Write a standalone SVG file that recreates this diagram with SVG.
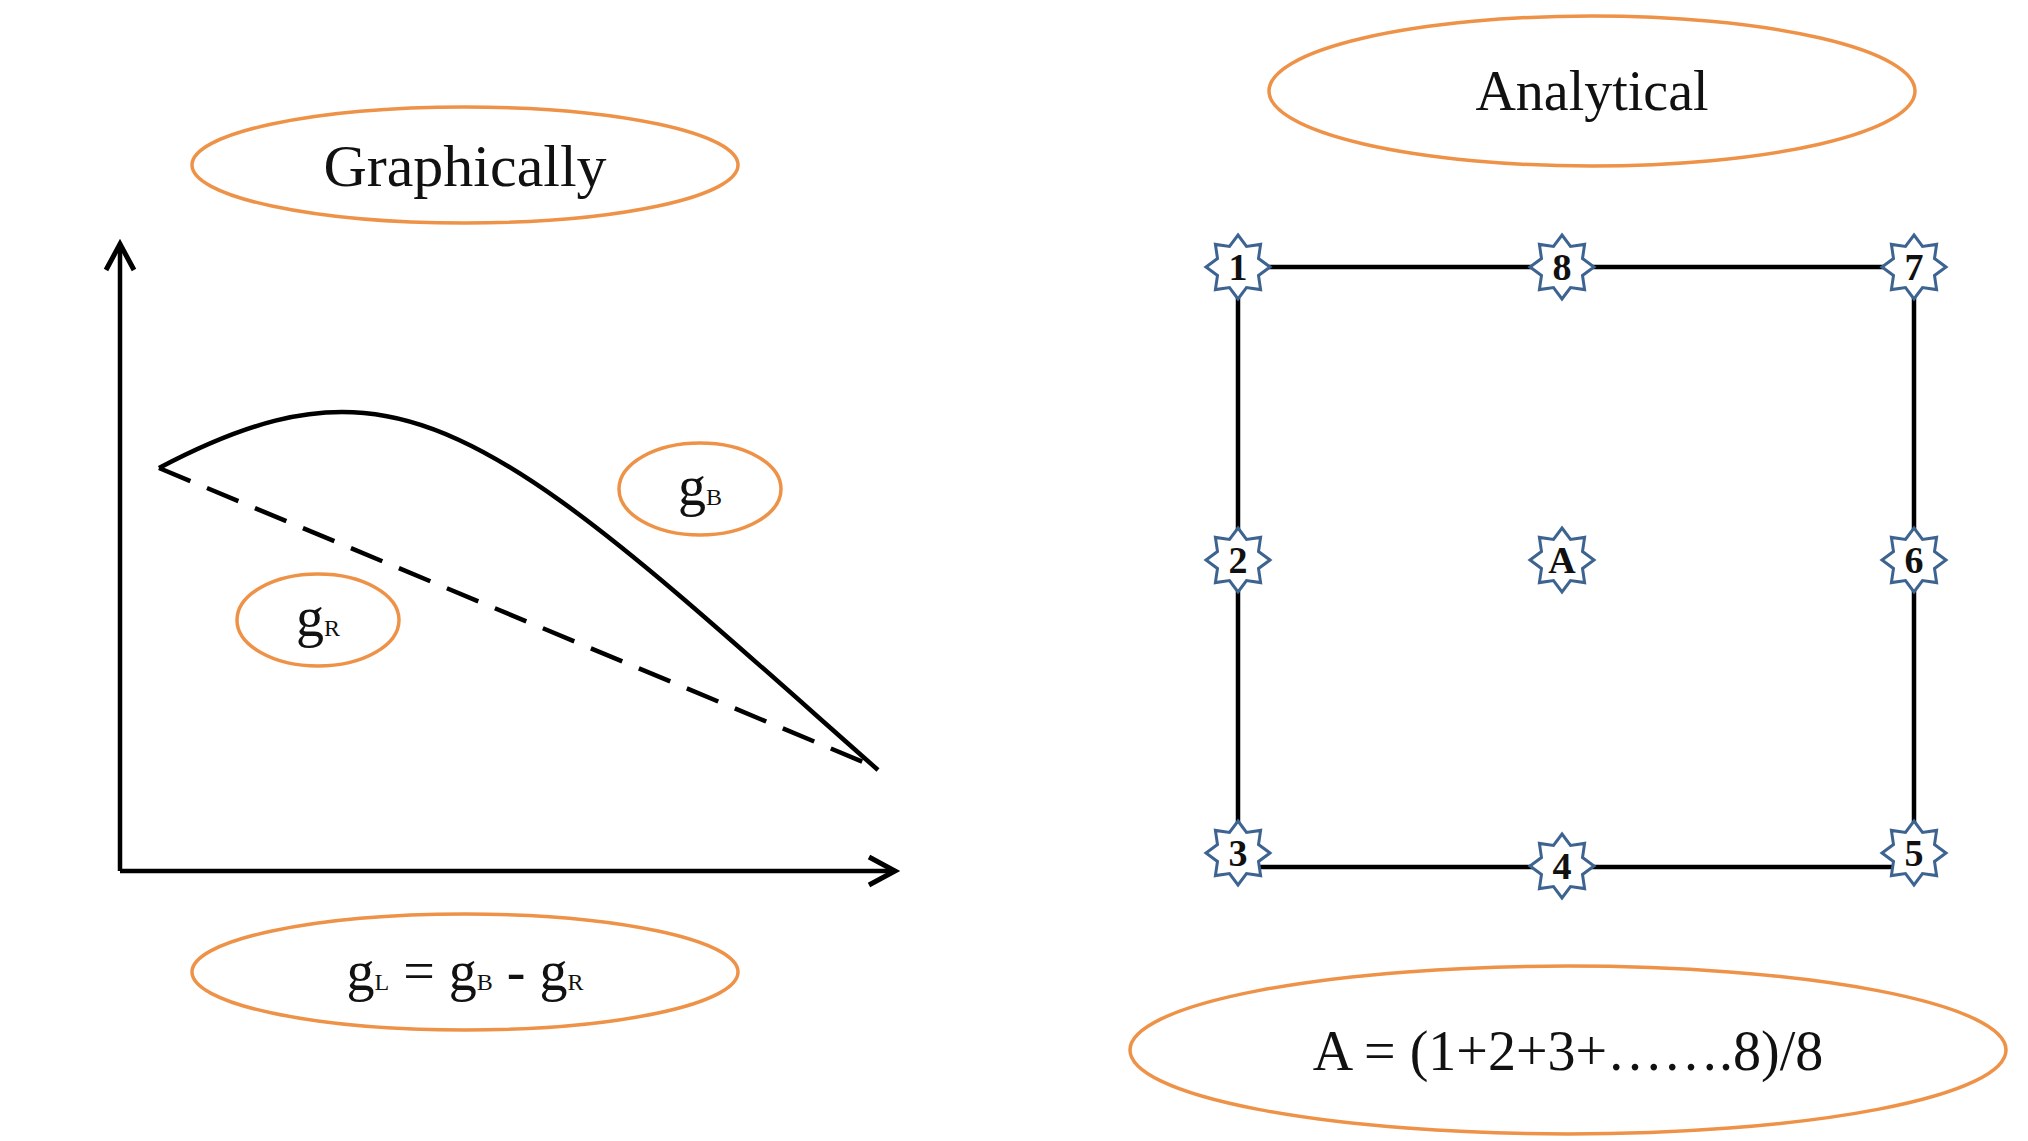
<svg xmlns="http://www.w3.org/2000/svg" width="2028" height="1141" viewBox="0 0 2028 1141">
<style>
.ov{fill:none;stroke:#ee9248;stroke-width:3.5}
.t{font-family:"Liberation Serif",serif;fill:#111;text-anchor:middle}
.ln{fill:none;stroke:#000;stroke-width:4.5}
.st{fill:#fff;stroke:#3d6391;stroke-width:3}
.n{font-family:"Liberation Serif",serif;font-weight:bold;font-size:38px;fill:#111;text-anchor:middle}
</style>
<defs>
<polygon id="star" class="st" points="0,-32 8.5,-20.5 22.6,-22.6 20.5,-8.5 32,0 20.5,8.5 22.6,22.6 8.5,20.5 0,32 -8.5,20.5 -22.6,22.6 -20.5,8.5 -32,0 -20.5,-8.5 -22.6,-22.6 -8.5,-20.5"/>
</defs>
<rect width="2028" height="1141" fill="#fff"/>
<g id="connectors">
<line class="ln" x1="120" y1="871" x2="120" y2="244" stroke-width="5"/>
<path d="M120,244 m-14,26 l14,-26 l14,26" fill="none" stroke="#000" stroke-width="5"/>
<line class="ln" x1="120" y1="871" x2="895" y2="871" stroke-width="5"/>
<path d="M869,857 l26,14 l-26,14" fill="none" stroke="#000" stroke-width="5"/>
<path class="ln" d="M159,468 C250,420 310,408 364,413 C 500,425 640,560 878,770" stroke-width="4"/>
<line class="ln" x1="159" y1="468" x2="868" y2="764" stroke-dasharray="34,18" stroke-width="4"/>
<rect class="ln" x="1238" y="267" width="676" height="600"/>
</g>
<g id="graphically"><ellipse class="ov" cx="465" cy="165" rx="273" ry="58"/><text class="t" x="465" y="186" font-size="60">Graphically</text></g>
<g id="analytical"><ellipse class="ov" cx="1592" cy="91" rx="323" ry="75"/><text class="t" x="1592" y="110" font-size="56">Analytical</text></g>
<g id="gB"><ellipse class="ov" cx="700" cy="489" rx="81" ry="46"/><text class="t" x="700" y="505" font-size="56">g<tspan font-size="24">B</tspan></text></g>
<g id="gR"><ellipse class="ov" cx="318" cy="620" rx="81" ry="46"/><text class="t" x="318" y="636" font-size="56">g<tspan font-size="24">R</tspan></text></g>
<g id="gL"><ellipse class="ov" cx="465" cy="972" rx="273" ry="58"/><text class="t" x="465" y="990" font-size="56">g<tspan font-size="24">L</tspan> = g<tspan font-size="24">B</tspan> - g<tspan font-size="24">R</tspan></text></g>
<g id="formula"><ellipse class="ov" cx="1568" cy="1050" rx="438" ry="84"/><text class="t" x="1568" y="1070" font-size="56">A = (1+2+3+…….8)/8</text></g>
<g id="n1"><use href="#star" x="1238" y="267"/><text class="n" x="1238" y="280">1</text></g>
<g id="n8"><use href="#star" x="1562" y="267"/><text class="n" x="1562" y="280">8</text></g>
<g id="n7"><use href="#star" x="1914" y="267"/><text class="n" x="1914" y="280">7</text></g>
<g id="n2"><use href="#star" x="1238" y="560"/><text class="n" x="1238" y="573">2</text></g>
<g id="nA"><use href="#star" x="1562" y="560"/><text class="n" x="1562" y="573">A</text></g>
<g id="n6"><use href="#star" x="1914" y="560"/><text class="n" x="1914" y="573">6</text></g>
<g id="n3"><use href="#star" x="1238" y="853"/><text class="n" x="1238" y="866">3</text></g>
<g id="n4"><use href="#star" x="1562" y="866"/><text class="n" x="1562" y="879">4</text></g>
<g id="n5"><use href="#star" x="1914" y="853"/><text class="n" x="1914" y="866">5</text></g>
</svg>
